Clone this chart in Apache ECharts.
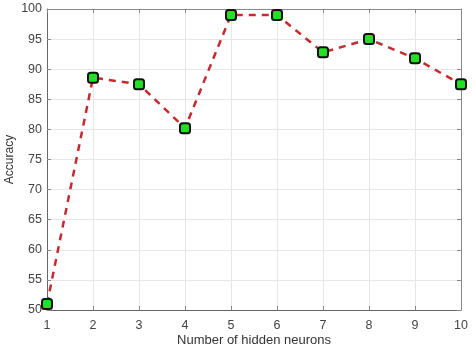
<!DOCTYPE html>
<html>
<head>
<meta charset="utf-8">
<script src="https://cdn.jsdelivr.net/npm/echarts@6/dist/echarts.min.js"></script>
<style>
  html, body { margin: 0; padding: 0; background: #fff; }
  #chart { width: 474px; height: 351px; }
</style>
</head>
<body>
<div id="chart"></div>
<script>
const neurons = [1, 2, 3, 4, 5, 6, 7, 8, 9, 10]
const accuracy = [51.0, 88.6, 87.5, 80.2, 99.0, 99.0, 92.8, 95.0, 91.8, 87.5]

const chart = echarts.init(document.getElementById('chart'))

const axisFont = { color: '#444', fontSize: 12.5, fontFamily: 'Liberation Sans, Arial, sans-serif' }
const boxLine = { show: true, lineStyle: { color: '#888', width: 1 } }
const tickIn = { show: true, inside: true, length: 4, lineStyle: { color: '#888' } }

chart.setOption({
  animation: false,
  grid: { left: 47, right: 13, top: 9, bottom: 41, outerBoundsMode: 'none' },
  xAxis: [{
    type: 'value',
    min: 1,
    max: 10,
    interval: 1,
    name: 'Number of hidden neurons',
    nameLocation: 'middle',
    nameGap: 24,
    nameMoveOverlap: false,
    nameTextStyle: { color: '#333', fontSize: 13, fontFamily: 'Liberation Sans, Arial, sans-serif' },
    axisLine: { show: true, lineStyle: { color: '#666', width: 1 } },
    axisTick: tickIn,
    axisLabel: { ...axisFont, margin: 9 },
    splitLine: { show: true, lineStyle: { color: '#e6e6e6' } }
  }, {
    type: 'value',
    position: 'top',
    min: 1,
    max: 10,
    interval: 1,
    axisLine: boxLine,
    axisTick: tickIn,
    axisLabel: { show: false },
    splitLine: { show: false }
  }],
  yAxis: [{
    type: 'value',
    min: 50,
    max: 100,
    interval: 5,
    name: 'Accuracy',
    nameLocation: 'middle',
    nameGap: 31,
    nameMoveOverlap: false,
    nameTextStyle: { color: '#333', fontSize: 12, fontFamily: 'Liberation Sans, Arial, sans-serif' },
    axisLine: { show: true, lineStyle: { color: '#666', width: 1 } },
    axisTick: tickIn,
    axisLabel: { ...axisFont, margin: 5 },
    splitLine: { show: true, lineStyle: { color: '#e6e6e6' } }
  }, {
    type: 'value',
    position: 'right',
    min: 50,
    max: 100,
    interval: 5,
    axisLine: boxLine,
    axisTick: tickIn,
    axisLabel: { show: false },
    splitLine: { show: false }
  }],
  series: [{
    type: 'line',
    data: neurons.map((n, i) => [n, accuracy[i]]),
    lineStyle: { color: '#c42a2f', width: 2.5, type: [7, 6] },
    symbol: 'roundRect',
    symbolSize: 10,
    itemStyle: { color: '#22e022', borderColor: '#111', borderWidth: 2 },
    z: 5
  }]
})
</script>
</body>
</html>
